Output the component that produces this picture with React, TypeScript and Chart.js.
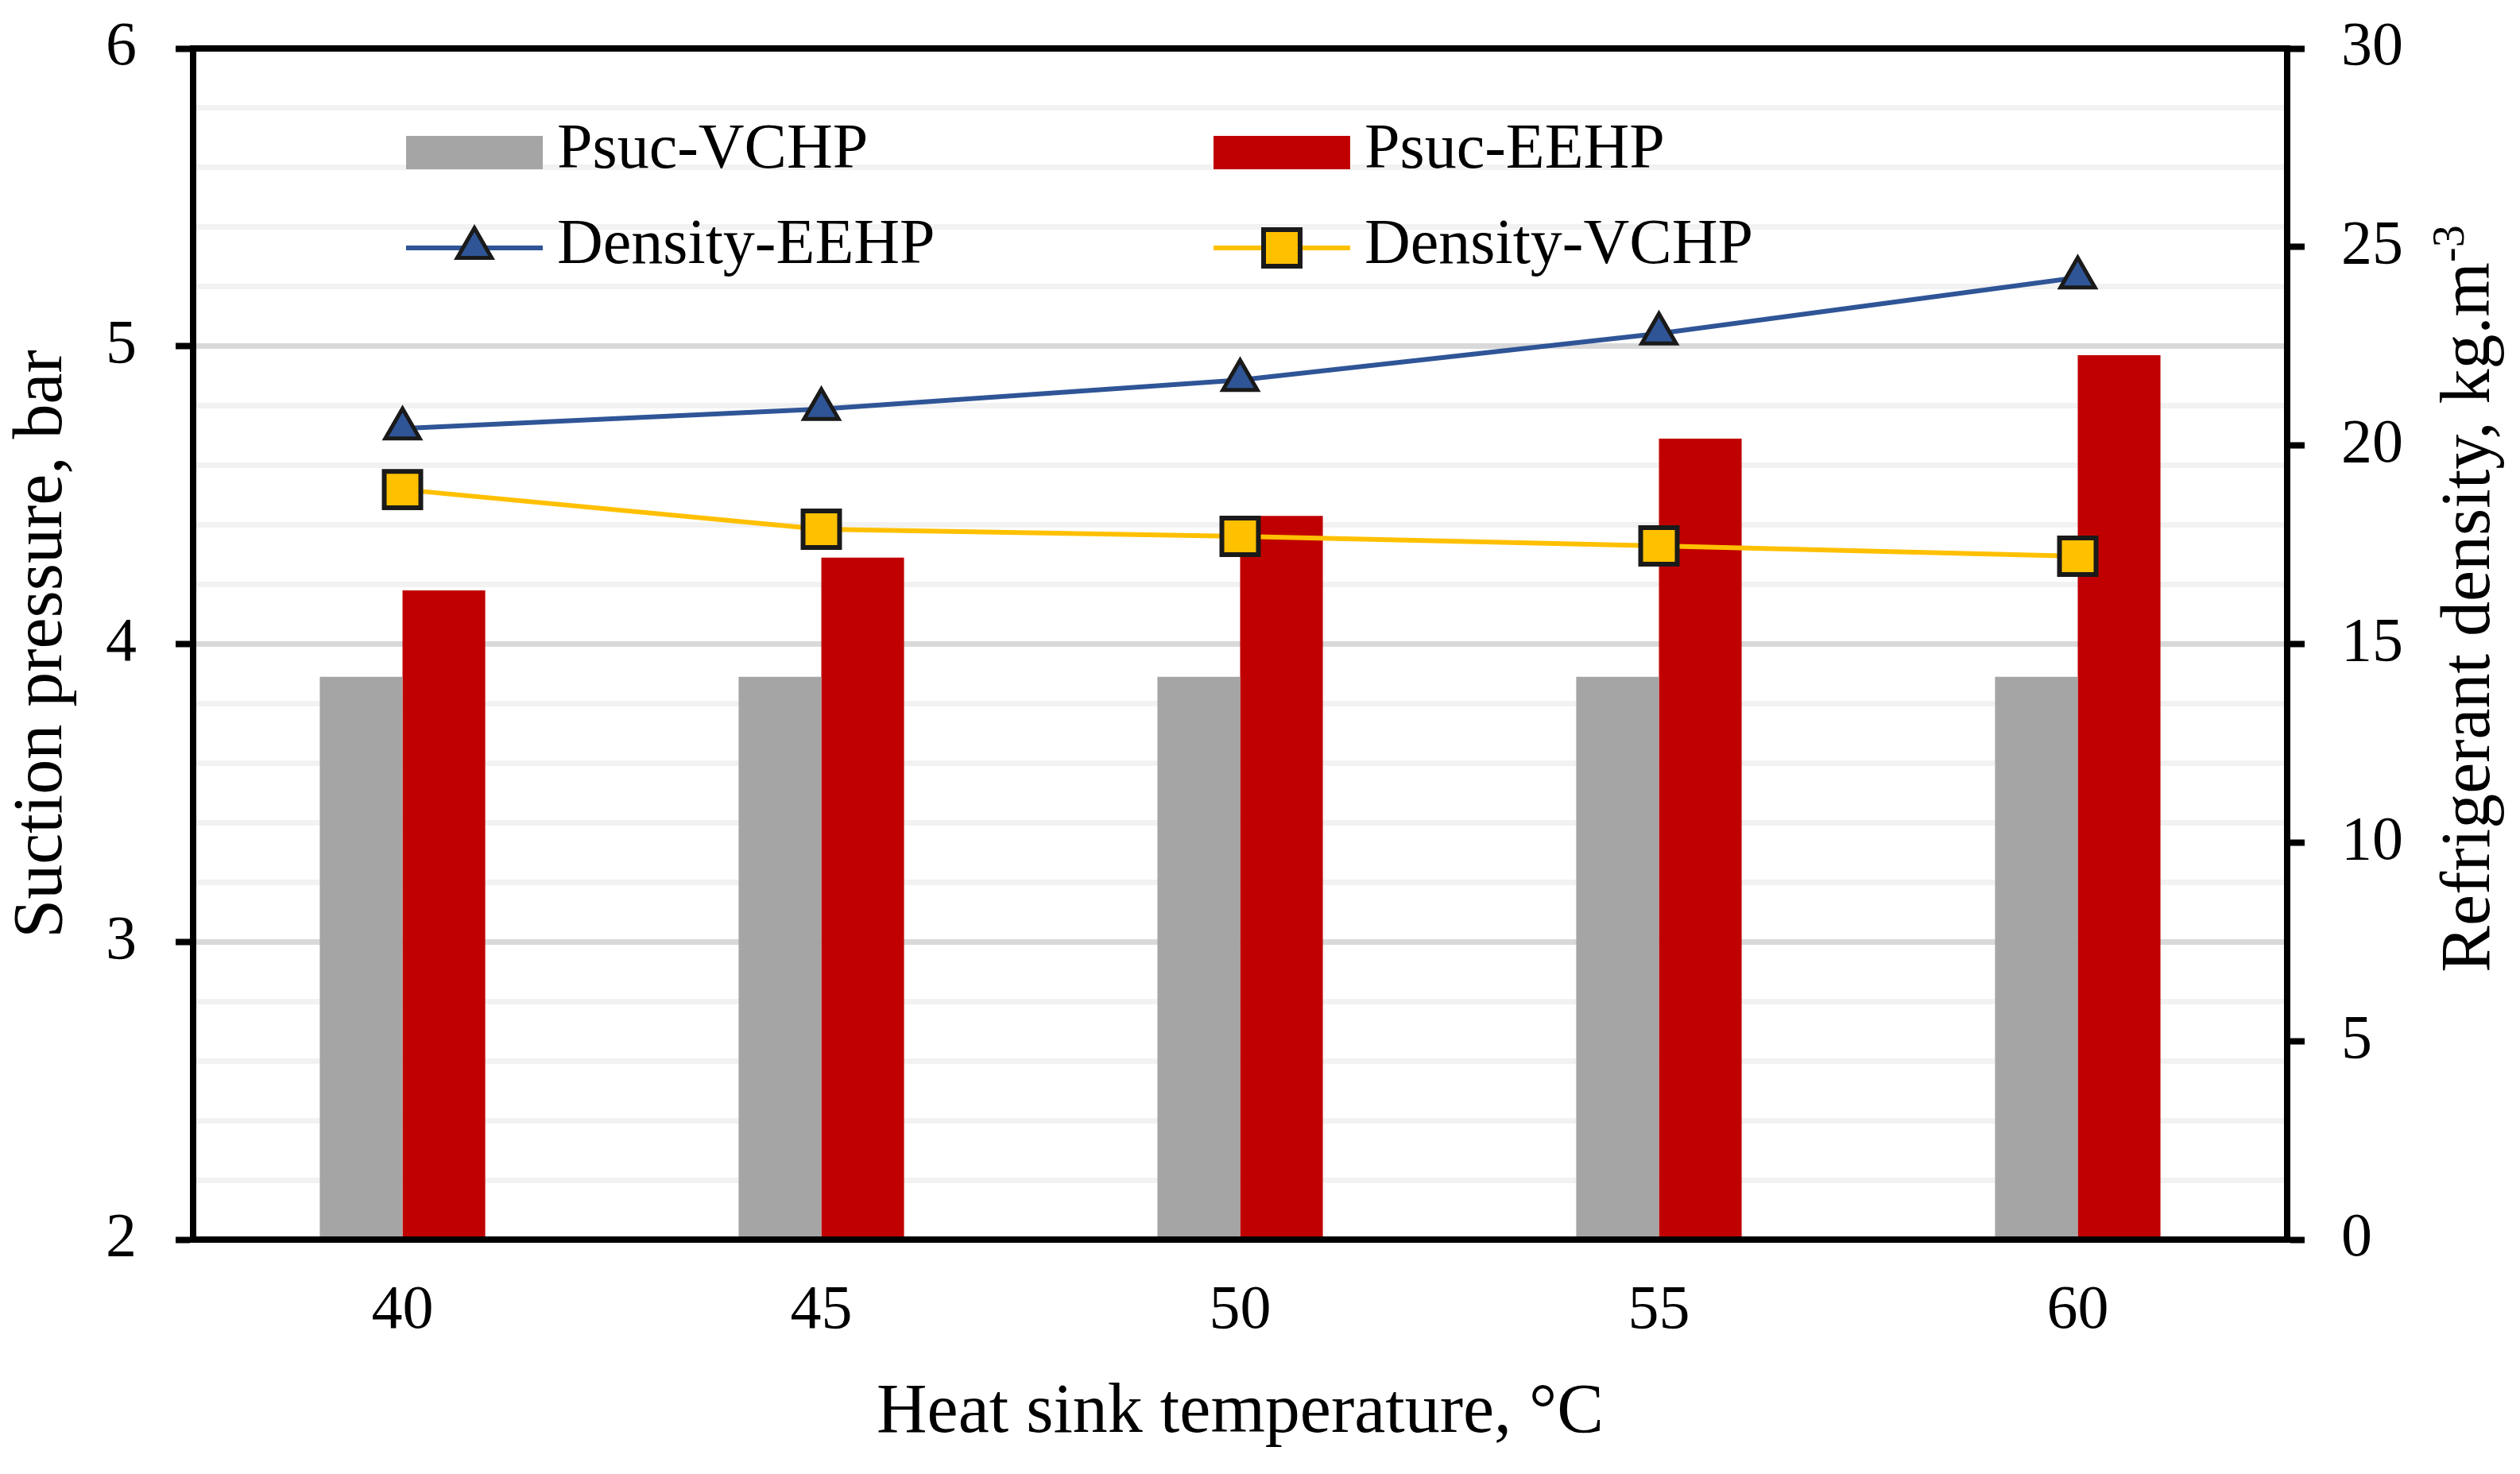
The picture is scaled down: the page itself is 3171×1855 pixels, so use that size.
import { useEffect, useRef } from 'react';
import { Chart, registerables } from 'chart.js';
import { drawPoint } from 'chart.js/helpers';

Chart.register(...registerables);

// values
const temperatures = ['40', '45', '50', '55', '60'];
const psucVchp = [3.89, 3.89, 3.89, 3.89, 3.89];
const psucEehp = [4.18, 4.29, 4.43, 4.69, 4.97];
const densityEehp = [20.43, 20.92, 21.65, 22.82, 24.23];
const densityVchp = [18.89, 17.89, 17.71, 17.47, 17.21];

const xTitle = 'Heat sink temperature, °C';
const yTitle = 'Suction pressure, bar';
const y1Title = 'Refrigerant density, kg.m';
const y1TitleSup = '-3';

const FONT = '"Liberation Serif", "Times New Roman", serif';
const isWhole = (v: number) => Math.abs(v - Math.round(v)) < 1e-6;

// fixed axis box sizes so the plot area sits where it does in the picture
const fixBox = (w?: number, h?: number) => (s: any) => {
  if (w !== undefined) s.width = w;
  if (h !== undefined) s.height = h;
  s.paddingTop = 0;
  s.paddingBottom = 0;
  s.paddingLeft = 0;
  s.paddingRight = 0;
};

// top and bottom edges of the plot frame, drawn over the bars
const framePlugin = {
  id: 'frame',
  afterDatasetsDraw(chart: any) {
    const { ctx, chartArea } = chart;
    ctx.save();
    ctx.strokeStyle = '#000';
    ctx.lineWidth = 8;
    ctx.beginPath();
    ctx.moveTo(chartArea.left - 4, chartArea.top);
    ctx.lineTo(chartArea.right + 4, chartArea.top);
    ctx.moveTo(chartArea.left - 4, chartArea.bottom);
    ctx.lineTo(chartArea.right + 4, chartArea.bottom);
    ctx.stroke();
    ctx.restore();
  },
};

// 2 x 2 legend inside the plot area
const legendPlugin = {
  id: 'gridLegend',
  afterDatasetsDraw(chart: any) {
    const { ctx, chartArea } = chart;
    const cols = [268, 1284];
    const rows = [131, 251];
    chart.data.datasets.forEach((ds: any, i: number) => {
      const x = chartArea.left + cols[i % 2];
      const y = chartArea.top + rows[Math.floor(i / 2)];
      ctx.save();
      if (ds.type === 'line') {
        ctx.strokeStyle = ds.borderColor;
        ctx.lineWidth = ds.borderWidth;
        ctx.beginPath();
        ctx.moveTo(x, y);
        ctx.lineTo(x + 172, y);
        ctx.stroke();
        ctx.fillStyle = ds.pointBackgroundColor;
        ctx.strokeStyle = ds.pointBorderColor;
        ctx.lineWidth = ds.pointBorderWidth;
        drawPoint(ctx, { pointStyle: ds.pointStyle, radius: ds.pointRadius, rotation: 0, borderWidth: ds.pointBorderWidth }, x + 86, y);
      } else {
        ctx.fillStyle = ds.backgroundColor;
        ctx.fillRect(x, y - 21, 172, 42);
      }
      ctx.fillStyle = '#000';
      ctx.font = `80px ${FONT}`;
      ctx.textAlign = 'left';
      ctx.textBaseline = 'middle';
      ctx.fillText(ds.label, x + 190, y - 2);
      ctx.restore();
    });
  },
};

// right axis title reads bottom-to-top and has a superscript
const rightTitlePlugin = {
  id: 'rightTitle',
  afterDraw(chart: any) {
    const { ctx, chartArea } = chart;
    const cx = chartArea.right + 254;
    const cy = (chartArea.top + chartArea.bottom) / 2 - 57;
    ctx.save();
    ctx.translate(cx, cy);
    ctx.rotate(-Math.PI / 2);
    ctx.fillStyle = '#000';
    ctx.textAlign = 'left';
    ctx.textBaseline = 'alphabetic';
    ctx.font = `88px ${FONT}`;
    const mainW = ctx.measureText(y1Title).width;
    ctx.font = `56px ${FONT}`;
    const supW = ctx.measureText(y1TitleSup).width;
    const start = -(mainW + supW) / 2;
    ctx.font = `88px ${FONT}`;
    ctx.fillText(y1Title, start, 0);
    ctx.font = `56px ${FONT}`;
    ctx.fillText(y1TitleSup, start + mainW, -32);
    ctx.restore();
  },
};

export default function App() {
  const canvasRef = useRef<HTMLCanvasElement>(null);

  useEffect(() => {
    if (!canvasRef.current) return;

    const chart = new Chart(canvasRef.current, {
      type: 'bar',
      data: {
        labels: temperatures,
        datasets: [
          {
            type: 'bar',
            label: 'Psuc-VCHP',
            data: psucVchp,
            backgroundColor: '#a5a5a5',
            yAxisID: 'y',
            barPercentage: 1,
            categoryPercentage: 0.395,
            order: 2,
          },
          {
            type: 'bar',
            label: 'Psuc-EEHP',
            data: psucEehp,
            backgroundColor: '#c00000',
            yAxisID: 'y',
            barPercentage: 1,
            categoryPercentage: 0.395,
            order: 2,
          },
          {
            type: 'line',
            label: 'Density-EEHP',
            data: densityEehp,
            yAxisID: 'y1',
            borderColor: '#2f5597',
            borderWidth: 6,
            backgroundColor: '#2f5597',
            pointStyle: 'triangle',
            pointRadius: 25,
            pointBackgroundColor: '#2f5597',
            pointBorderColor: '#1a1a1a',
            pointBorderWidth: 5,
            tension: 0,
            order: 1,
          },
          {
            type: 'line',
            label: 'Density-VCHP',
            data: densityVchp,
            yAxisID: 'y1',
            borderColor: '#ffc000',
            borderWidth: 6,
            backgroundColor: '#ffc000',
            pointStyle: 'rect',
            pointRadius: 32.5,
            pointBackgroundColor: '#ffc000',
            pointBorderColor: '#1a1a1a',
            pointBorderWidth: 6,
            tension: 0,
            order: 1,
          },
        ] as any,
      },
      options: {
        animation: false,
        responsive: true,
        maintainAspectRatio: false,
        devicePixelRatio: 1,
        events: [],
        layout: { padding: { top: 61, left: 0, right: 0, bottom: 0 } },
        plugins: {
          legend: { display: false },
          tooltip: { enabled: false },
        },
        scales: {
          x: {
            grid: { display: false, drawTicks: false },
            border: { color: '#000', width: 8 },
            ticks: { color: '#000', font: { family: FONT, size: 78 }, padding: 44 },
            title: {
              display: true,
              text: xTitle,
              color: '#000',
              font: { family: FONT, size: 88 },
              padding: { top: 0, bottom: 23 },
            },
            afterFit: fixBox(undefined, 295),
          },
          y: {
            position: 'left',
            min: 2,
            max: 6,
            ticks: {
              stepSize: 0.2,
              autoSkip: false,
              color: '#000',
              font: { family: FONT, size: 78 },
              padding: 49,
              callback: (v: any) => (isWhole(Number(v)) ? String(Math.round(Number(v))) : ''),
            },
            grid: {
              color: (c: any) => {
                const v = c.tick?.value;
                if (v === undefined || v === c.scale.min || v === c.scale.max) return 'rgba(0,0,0,0)';
                return isWhole(v) ? '#d9d9d9' : '#f2f2f2';
              },
              lineWidth: 7,
              tickLength: 22,
              tickWidth: 8,
              tickColor: (c: any) => (c.tick && isWhole(c.tick.value) ? '#000' : 'rgba(0,0,0,0)'),
            },
            border: { color: '#000', width: 8 },
            title: {
              display: true,
              text: yTitle,
              color: '#000',
              font: { family: FONT, size: 88 },
              padding: { top: 1, bottom: 0 },
            },
            afterFit: fixBox(243),
          },
          y1: {
            position: 'right',
            min: 0,
            max: 30,
            ticks: {
              stepSize: 5,
              color: '#000',
              font: { family: FONT, size: 78 },
              padding: 46,
            },
            grid: {
              drawOnChartArea: false,
              tickLength: 22,
              tickWidth: 8,
              tickColor: '#000',
            },
            border: { color: '#000', width: 8 },
            afterFit: fixBox(293),
          },
        },
      } as any,
      plugins: [framePlugin, legendPlugin, rightTitlePlugin],
    });

    return () => {
      chart.destroy();
    };
  }, []);

  return (
    <div style={{ position: 'absolute', left: 0, top: 0, width: 3171, height: 1855, background: '#fff' }}>
      <canvas ref={canvasRef} />
    </div>
  );
}
